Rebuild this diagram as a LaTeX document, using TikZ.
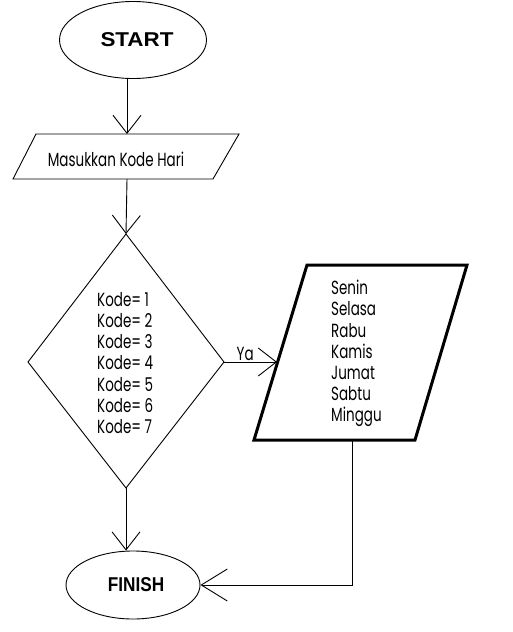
\documentclass[tikz,border=0pt]{standalone}
\usepackage{fontspec}
\setmainfont{Poppins}[FakeStretch=0.71]
\newfontfamily\startf{Liberation Sans}[FakeStretch=1.12]
\newfontfamily\finf{Liberation Sans}[FakeStretch=0.86]
\usetikzlibrary{arrows.meta,shapes.geometric}
\begin{document}
\begin{tikzpicture}[x=1pt,y=-1pt,
  thin/.style={line width=0.9pt},
  thick/.style={line width=3pt},
  tip/.style={-{Straight Barb[length=18pt,width=28pt,line width=0.9pt]}},
  bigtip/.style={-{Straight Barb[length=26pt,width=32pt,line width=0.9pt]}},
  term/.style={draw,thin,ellipse,inner sep=0pt},
  lbl/.style={font=\fontsize{19}{21.2}\selectfont,inner sep=0pt,align=left},
  ttl/.style={font=\bfseries\fontsize{20}{24}\selectfont,inner sep=0pt}
]
\useasboundingbox (0,0) rectangle (512,632);
\fill[white] (0,0) rectangle (512,632);

% START
\node[term,minimum width=147pt,minimum height=77pt] (start) at (133,40) {};
\node[ttl] (starttxt) at (137,40) {\startf START};

% input parallelogram
\coordinate (p1tl) at (36,134);
\coordinate (p1tr) at (239,134);
\coordinate (p1br) at (213,179);
\coordinate (p1bl) at (13,179);
\coordinate (p1top) at (127,134);
\coordinate (p1bot) at (127,179);
\draw[thin] (p1tl) -- (p1tr) -- (p1br) -- (p1bl) -- cycle;
\node[lbl] (intxt) at (116,159) {Masukkan Kode Hari};

% decision diamond
\coordinate (dtop) at (126,234);
\coordinate (dright) at (224,362);
\coordinate (dbot) at (126,488);
\coordinate (dleft) at (28,362);
\draw[thin] (dtop) -- (dright) -- (dbot) -- (dleft) -- cycle;
\node[lbl,anchor=north west] (kode) at (97,292) {Kode= 1\\Kode= 2\\Kode= 3\\Kode= 4\\Kode= 5\\Kode= 6\\Kode= 7};

% output parallelogram
\coordinate (p2tl) at (307,265);
\coordinate (p2tr) at (467,265);
\coordinate (p2br) at (415,440);
\coordinate (p2bl) at (254,440);
\coordinate (p2in) at (277,362);
\coordinate (p2bot) at (352,440);
\draw[thick,line join=miter] (p2tl) -- (p2tr) -- (p2br) -- (p2bl) -- cycle;
\node[lbl,anchor=north west] (hari) at (331,280) {Senin\\Selasa\\Rabu\\Kamis\\Jumat\\Sabtu\\Minggu};

% FINISH
\node[term,minimum width=134pt,minimum height=68pt] (finish) at (133,585) {};
\node[ttl] (fintxt) at (136,585) {\finf FINISH};

% connectors
\draw[thin,tip] (start.south -| p1top) -- (p1top);
\draw[thin,tip] (p1bot) -- (dtop);
\draw[thin,tip] (dright) -- (p2in) node[pos=0.4,above=1pt,lbl] (ya) {Ya};
\draw[thin,tip] (dbot) -- (dbot |- finish.north);
\draw[thin,bigtip] (p2bot) |- (finish.east);
\end{tikzpicture}
\end{document}
